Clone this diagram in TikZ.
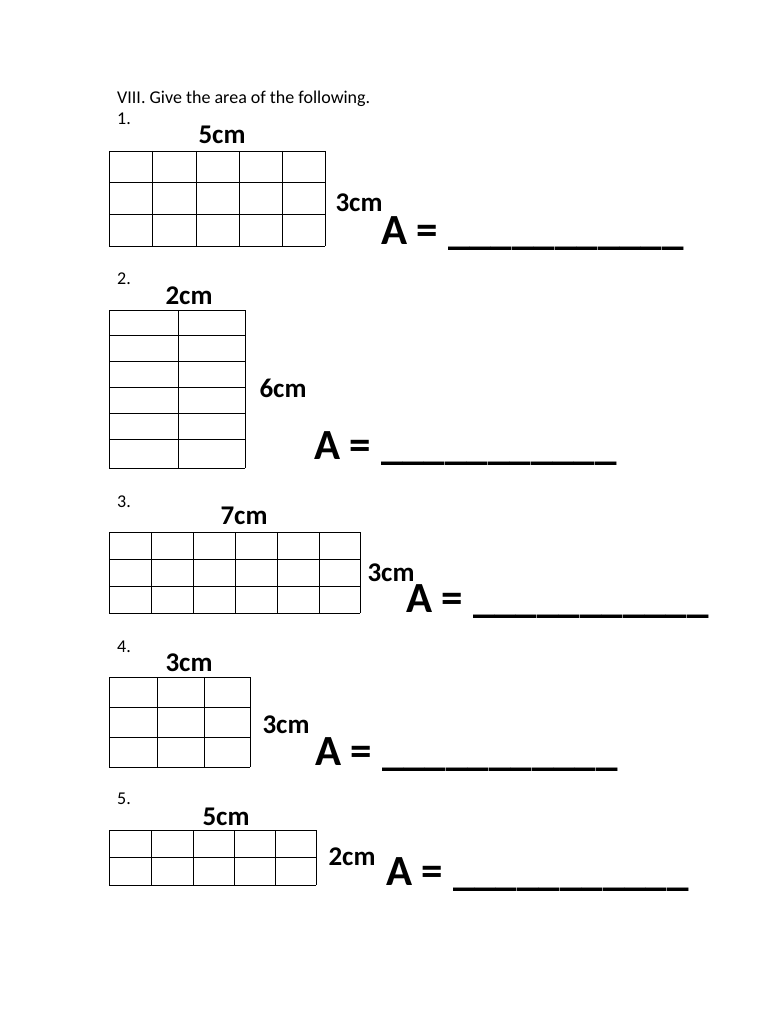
\documentclass[tikz,border=0pt]{standalone}
\usepackage{fontspec}
\setmainfont{Carlito}
\begin{document}
\begin{tikzpicture}[x=1pt,y=-1pt,
  lab/.style={font=\fontsize{27}{29}\selectfont\bfseries,inner sep=0},
  ans/.style={font=\fontsize{43}{45}\selectfont\bfseries,anchor=base west,inner sep=0},
  num/.style={font=\fontsize{18}{20}\selectfont,anchor=base west,inner sep=0},
  grid/.style={line width=0.9pt}]
\useasboundingbox (0,0) rectangle (768,1024);
\node[num] (t) at (117,104) {VIII. Give the area of the following.};
% 1
\node[num] (n1) at (117,125) {1.};
\foreach \x in {109,152,196,239,282,325} \draw[grid] (\x,151) -- (\x,246);
\foreach \y in {151,182,214,246} \draw[grid] (109,\y) -- (325,\y);
\node[lab] (w1) at (222,135) {5cm};
\node[lab] (h1) at (359,203) {3cm};
\node[ans] (a1) at (381,244) {A = \_\_\_\_\_\_\_\_\_\_\_};
% 2
\node[num] (n2) at (117,284) {2.};
\foreach \x in {109,178,245} \draw[grid] (\x,310) -- (\x,468);
\foreach \y in {310,335,361,387,413,439,468} \draw[grid] (109,\y) -- (245,\y);
\node[lab] (w2) at (189,296) {2cm};
\node[lab] (h2) at (283,388) {6cm};
\node[ans] (a2) at (314,459) {A = \_\_\_\_\_\_\_\_\_\_\_};
% 3
\node[num] (n3) at (117,507) {3.};
\foreach \x in {109,151,193,235,277,319,360} \draw[grid] (\x,532) -- (\x,613);
\foreach \y in {532,559,586,613} \draw[grid] (109,\y) -- (360,\y);
\node[lab] (w3) at (244,516) {7cm};
\node[lab] (h3) at (391,573) {3cm};
\node[ans] (a3) at (406,612) {A = \_\_\_\_\_\_\_\_\_\_\_};
% 4
\node[num] (n4) at (117,652) {4.};
\foreach \x in {109,157,204,250} \draw[grid] (\x,677) -- (\x,767);
\foreach \y in {677,707,737,767} \draw[grid] (109,\y) -- (250,\y);
\node[lab] (w4) at (189,663) {3cm};
\node[lab] (h4) at (286,725) {3cm};
\node[ans] (a4) at (315,765) {A = \_\_\_\_\_\_\_\_\_\_\_};
% 5
\node[num] (n5) at (117,804) {5.};
\foreach \x in {109,151,193,234,275,316} \draw[grid] (\x,830) -- (\x,885);
\foreach \y in {830,857,885} \draw[grid] (109,\y) -- (316,\y);
\node[lab] (w5) at (226,817) {5cm};
\node[lab] (h5) at (352,857) {2cm};
\node[ans] (a5) at (386,885) {A = \_\_\_\_\_\_\_\_\_\_\_};
\end{tikzpicture}
\end{document}
